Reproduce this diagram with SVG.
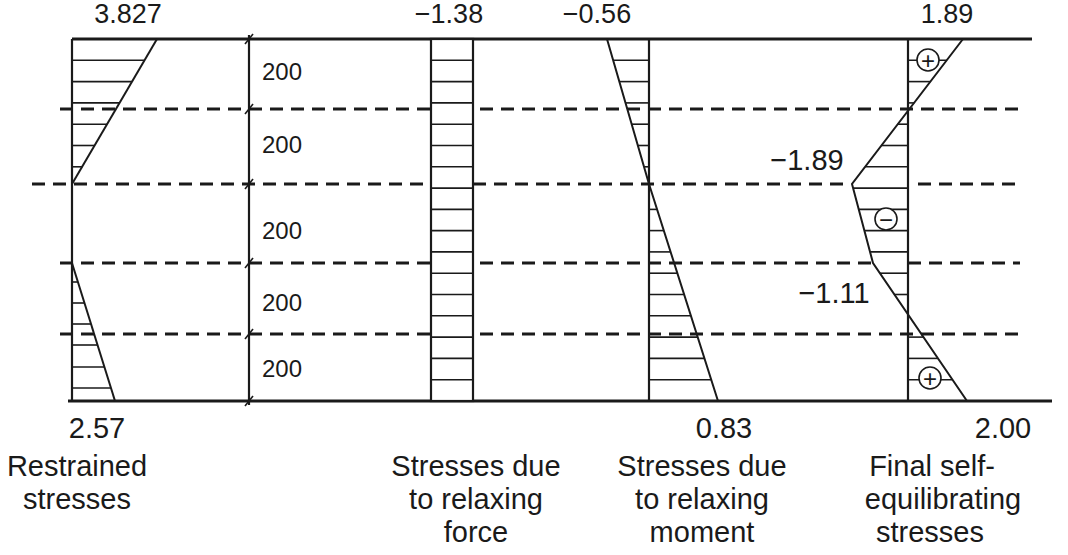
<svg xmlns="http://www.w3.org/2000/svg" width="1068" height="555" viewBox="0 0 1068 555">
<style>
  .bg{fill:#ffffff}
  .thick{stroke:#1a1a1a;stroke-width:3;fill:none;stroke-linecap:butt}
  .axis{stroke:#1a1a1a;stroke-width:2.2;fill:none}
  .hatch{stroke:#1a1a1a;stroke-width:1.6;fill:none}
  .dash{stroke:#1a1a1a;stroke-width:3;fill:none;stroke-dasharray:13 8}
  .slant{stroke:#1a1a1a;stroke-width:2;fill:none;stroke-linejoin:miter}
  .t{font-family:"Liberation Sans",Arial,sans-serif;font-size:29px;fill:#1a1a1a}
  .top{font-size:27px}
  .dim{font-family:"Liberation Sans",Arial,sans-serif;font-size:24px;fill:#1a1a1a}
  .sgn{font-family:"Liberation Sans",Arial,sans-serif;font-size:24px;fill:#1a1a1a;text-anchor:middle}
  .mid{text-anchor:middle}
  .circ{fill:#ffffff;stroke:#1a1a1a;stroke-width:1.6}
</style>
<rect class="bg" x="0" y="0" width="1068" height="555"/>

<g id="reference-lines">
  <line class="dash" x1="60" y1="109" x2="1020" y2="109"/>
  <line class="dash" x1="32" y1="184" x2="846" y2="184"/>
  <line class="dash" x1="918" y1="184" x2="1020" y2="184"/>
  <line class="dash" x1="60" y1="263" x2="873" y2="263"/>
  <line class="dash" x1="908" y1="263" x2="1020" y2="263"/>
  <line class="dash" x1="60" y1="334" x2="1020" y2="334"/>
  <line class="thick" x1="72" y1="39" x2="1032" y2="39"/>
  <line class="thick" x1="68" y1="401" x2="1052" y2="401"/>
</g>

<g id="restrained">
  <line class="axis" x1="72" y1="39" x2="72" y2="401"/>
  <polyline class="slant" points="157,39 72,184"/>
  <polyline class="slant" points="72,263 115,401"/>
  <g class="hatch">
    <line x1="72" y1="60.3" x2="144.5" y2="60.3"/>
    <line x1="72" y1="81.6" x2="132" y2="81.6"/>
    <line x1="72" y1="102.9" x2="119.5" y2="102.9"/>
    <line x1="72" y1="124.2" x2="107" y2="124.2"/>
    <line x1="72" y1="145.5" x2="94.6" y2="145.5"/>
    <line x1="72" y1="166.8" x2="82.1" y2="166.8"/>
    <line x1="72" y1="282" x2="77.9" y2="282"/>
    <line x1="72" y1="303" x2="84.5" y2="303"/>
    <line x1="72" y1="324" x2="91" y2="324"/>
    <line x1="72" y1="345" x2="97.6" y2="345"/>
    <line x1="72" y1="367" x2="104.5" y2="367"/>
    <line x1="72" y1="388" x2="111" y2="388"/>
  </g>
  <text class="t top mid" x="128" y="23">3.827</text>
  <text class="t mid" x="97" y="438">2.57</text>
  <text class="t mid" x="77" y="476">Restrained</text>
  <text class="t mid" x="77" y="509">stresses</text>
</g>

<g id="dimension">
  <line class="axis" x1="249" y1="35" x2="249" y2="405"/>
  <g class="hatch">
    <line x1="245" y1="44" x2="253" y2="34"/>
    <line x1="245" y1="114" x2="253" y2="104"/>
    <line x1="245" y1="189" x2="253" y2="179"/>
    <line x1="245" y1="268" x2="253" y2="258"/>
    <line x1="245" y1="339" x2="253" y2="329"/>
    <line x1="245" y1="406" x2="253" y2="396"/>
  </g>
  <text class="dim" x="262" y="80">200</text>
  <text class="dim" x="262" y="153">200</text>
  <text class="dim" x="262" y="239">200</text>
  <text class="dim" x="262" y="311">200</text>
  <text class="dim" x="262" y="377">200</text>
</g>

<g id="relaxing-force">
  <rect x="431" y="39" width="42" height="362" fill="#ffffff" stroke="#1a1a1a" stroke-width="2.2"/>
  <g class="hatch">
    <line x1="431" y1="60.3" x2="473" y2="60.3"/>
    <line x1="431" y1="81.6" x2="473" y2="81.6"/>
    <line x1="431" y1="102.9" x2="473" y2="102.9"/>
    <line x1="431" y1="124.2" x2="473" y2="124.2"/>
    <line x1="431" y1="145.5" x2="473" y2="145.5"/>
    <line x1="431" y1="166.8" x2="473" y2="166.8"/>
    <line x1="431" y1="188.1" x2="473" y2="188.1"/>
    <line x1="431" y1="209.4" x2="473" y2="209.4"/>
    <line x1="431" y1="230.6" x2="473" y2="230.6"/>
    <line x1="431" y1="251.9" x2="473" y2="251.9"/>
    <line x1="431" y1="273.2" x2="473" y2="273.2"/>
    <line x1="431" y1="294.5" x2="473" y2="294.5"/>
    <line x1="431" y1="315.8" x2="473" y2="315.8"/>
    <line x1="431" y1="337.1" x2="473" y2="337.1"/>
    <line x1="431" y1="358.4" x2="473" y2="358.4"/>
    <line x1="431" y1="379.7" x2="473" y2="379.7"/>
  </g>
  <text class="t top mid" x="449" y="23">−1.38</text>
  <text class="t mid" x="476" y="476">Stresses due</text>
  <text class="t mid" x="476" y="509">to relaxing</text>
  <text class="t mid" x="476" y="542">force</text>
</g>

<g id="relaxing-moment">
  <line class="axis" x1="649" y1="39" x2="649" y2="401"/>
  <polyline class="slant" points="607,39 649,184 718,401"/>
  <g class="hatch">
    <line x1="613.2" y1="60.3" x2="649" y2="60.3"/>
    <line x1="619.3" y1="81.6" x2="649" y2="81.6"/>
    <line x1="625.5" y1="102.9" x2="649" y2="102.9"/>
    <line x1="631.7" y1="124.2" x2="649" y2="124.2"/>
    <line x1="637.9" y1="145.5" x2="649" y2="145.5"/>
    <line x1="644" y1="166.8" x2="649" y2="166.8"/>
    <line x1="649" y1="209.4" x2="657.1" y2="209.4"/>
    <line x1="649" y1="230.6" x2="663.8" y2="230.6"/>
    <line x1="649" y1="251.9" x2="670.6" y2="251.9"/>
    <line x1="649" y1="273.2" x2="677.4" y2="273.2"/>
    <line x1="649" y1="294.5" x2="684.1" y2="294.5"/>
    <line x1="649" y1="315.8" x2="690.9" y2="315.8"/>
    <line x1="649" y1="337.1" x2="697.7" y2="337.1"/>
    <line x1="649" y1="358.4" x2="704.5" y2="358.4"/>
    <line x1="649" y1="379.7" x2="711.2" y2="379.7"/>
  </g>
  <text class="t top mid" x="597" y="23">−0.56</text>
  <text class="t mid" x="724" y="438">0.83</text>
  <text class="t mid" x="702" y="476">Stresses due</text>
  <text class="t mid" x="702" y="509">to relaxing</text>
  <text class="t mid" x="702" y="542">moment</text>
</g>

<g id="final-self-equilibrating">
  <line class="axis" x1="908" y1="39" x2="908" y2="401"/>
  <polyline class="slant" points="963,39 852,184 873,263 967,401"/>
  <g class="hatch">
    <line x1="908" y1="60.3" x2="946.7" y2="60.3"/>
    <line x1="908" y1="81.6" x2="930.4" y2="81.6"/>
    <line x1="908" y1="102.9" x2="914.1" y2="102.9"/>
    <line x1="897.8" y1="124.2" x2="908" y2="124.2"/>
    <line x1="881.5" y1="145.5" x2="908" y2="145.5"/>
    <line x1="865.2" y1="166.8" x2="908" y2="166.8"/>
    <line x1="853.1" y1="188.1" x2="908" y2="188.1"/>
    <line x1="858.8" y1="209.4" x2="908" y2="209.4"/>
    <line x1="864.4" y1="230.6" x2="908" y2="230.6"/>
    <line x1="870" y1="251.9" x2="908" y2="251.9"/>
    <line x1="879.9" y1="273.2" x2="908" y2="273.2"/>
    <line x1="894.5" y1="294.5" x2="908" y2="294.5"/>
    <line x1="908" y1="337.1" x2="923.5" y2="337.1"/>
    <line x1="908" y1="358.4" x2="938" y2="358.4"/>
    <line x1="908" y1="379.7" x2="952.5" y2="379.7"/>
  </g>
  <circle class="circ" cx="928" cy="60" r="11"/>
  <text class="sgn" x="928" y="68.5">+</text>
  <circle class="circ" cx="886" cy="219" r="11"/>
  <text class="sgn" x="886" y="227.5">−</text>
  <circle class="circ" cx="930" cy="378" r="11"/>
  <text class="sgn" x="930" y="386.5">+</text>
  <text class="t top mid" x="947" y="23">1.89</text>
  <text class="t mid" x="807" y="170">−1.89</text>
  <text class="t mid" x="834" y="303">−1.11</text>
  <text class="t mid" x="1003" y="438">2.00</text>
  <text class="t mid" x="932" y="476">Final self-</text>
  <text class="t mid" x="943" y="509">equilibrating</text>
  <text class="t mid" x="930" y="542">stresses</text>
</g>
</svg>
